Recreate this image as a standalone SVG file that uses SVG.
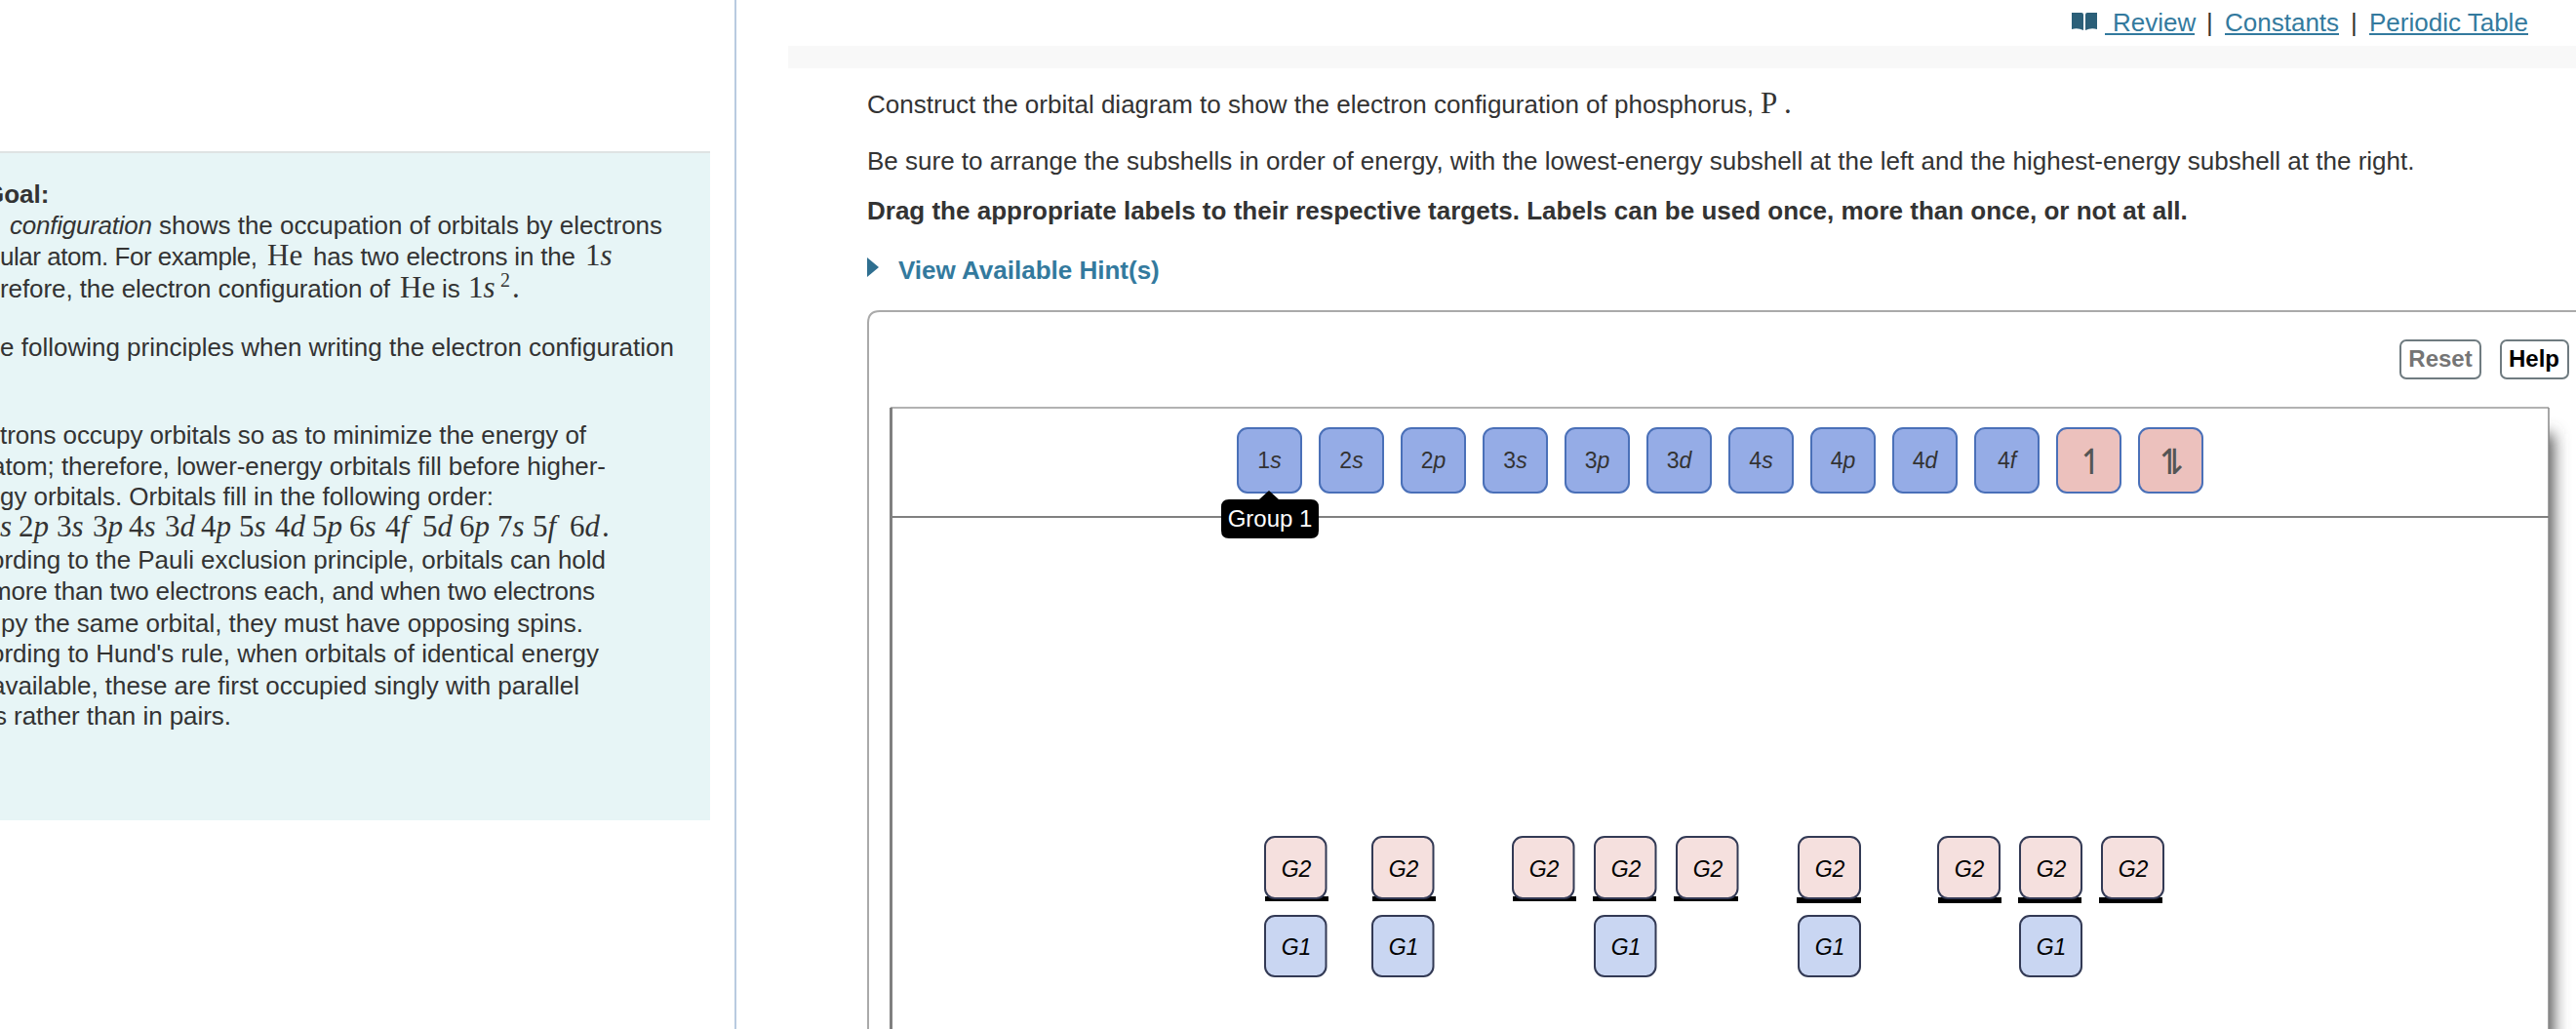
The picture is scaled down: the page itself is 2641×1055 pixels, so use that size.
<svg xmlns="http://www.w3.org/2000/svg" width="2641" height="1055" viewBox="0 0 2641 1055">
<style>
text{font-family:"Liberation Sans",Arial,sans-serif;font-size:26px;fill:#333}
.m{font-family:"Liberation Serif","Times New Roman",serif;font-size:31px}
.i{font-style:italic}
.b{font-weight:bold}
.lnk{fill:#337a9e;font-size:26px}
.ul{stroke:#337a9e;stroke-width:2}
.tok{stroke:#4a70b8;stroke-width:2}
.blue{fill:#95ace6}
.red{fill:#ecc1bd}
.tl{font-size:23px;fill:#333;text-anchor:middle}
.har{font-family:"DejaVu Sans",sans-serif;font-size:36px;fill:#555}
.t{stroke:#333a55;stroke-width:2}
.g2{fill:#f5e0de}
.g1{fill:#c9d6f2}
.nl{font-size:23px;font-style:italic;fill:#000;text-anchor:middle}
.btn{fill:#fff;stroke:#6f7b80;stroke-width:2}
.bt{font-size:24px;font-weight:bold;text-anchor:middle}
.bar{fill:#000}
</style>
<defs>
<filter id="blur" x="-20%" y="-20%" width="140%" height="140%"><feGaussianBlur stdDeviation="8"/></filter>
<filter id="soft" x="-5%" y="-50%" width="110%" height="200%"><feGaussianBlur stdDeviation="0.6"/></filter>
</defs>
<rect width="2641" height="1055" fill="#fff"/>

<g id="intro-panel">
<rect x="0" y="156" width="728" height="685" fill="#e7f5f6"/>
<rect x="0" y="155" width="728" height="2" fill="#dfe3e3"/>
<text class="b" x="-16" y="208">Goal:</text>
<text class="i" x="10" y="240" textLength="146">configuration</text><text x="163" y="240" textLength="516">shows the occupation of orbitals by electrons</text>
<text x="0" y="272" textLength="264">ular atom. For example,</text><text class="m" x="274" y="272">He</text><text x="321" y="272" textLength="269">has two electrons in the</text><text class="m" x="600" y="272">1<tspan class="i">s</tspan></text>
<text x="0" y="305" textLength="400">refore, the electron configuration of</text><text class="m" x="410" y="305">He</text><text x="453" y="305">is</text><text class="m" x="480" y="305">1<tspan class="i">s</tspan></text><text class="m" x="513" y="294" style="font-size:20px">2</text><text class="m" x="525" y="305">.</text>
<text x="0" y="365" textLength="691">e following principles when writing the electron configuration</text>
<text x="0" y="455" textLength="601">trons occupy orbitals so as to minimize the energy of</text>
<text x="-9" y="487" textLength="630">atom; therefore, lower-energy orbitals fill before higher-</text>
<text x="0" y="518" textLength="506">gy orbitals. Orbitals fill in the following order:</text>
<g id="order">
<text class="m i" x="0" y="550">s</text><text class="m" x="19" y="550">2<tspan class="i">p</tspan></text><text class="m" x="58" y="550">3<tspan class="i">s</tspan></text><text class="m" x="95" y="550">3<tspan class="i">p</tspan></text><text class="m" x="132" y="550">4<tspan class="i">s</tspan></text><text class="m" x="169" y="550">3<tspan class="i">d</tspan></text><text class="m" x="206" y="550">4<tspan class="i">p</tspan></text><text class="m" x="245" y="550">5<tspan class="i">s</tspan></text><text class="m" x="282" y="550">4<tspan class="i">d</tspan></text><text class="m" x="320" y="550">5<tspan class="i">p</tspan></text><text class="m" x="358" y="550">6<tspan class="i">s</tspan></text><text class="m" x="395" y="550">4<tspan class="i">f</tspan></text><text class="m" x="433" y="550">5<tspan class="i">d</tspan></text><text class="m" x="471" y="550">6<tspan class="i">p</tspan></text><text class="m" x="510" y="550">7<tspan class="i">s</tspan></text><text class="m" x="546" y="550">5<tspan class="i">f</tspan></text><text class="m" x="584" y="550">6<tspan class="i">d</tspan></text><text class="m" x="617" y="550">.</text>
</g>
<text x="-10" y="583" textLength="631">ording to the Pauli exclusion principle, orbitals can hold</text>
<text x="-10" y="615" textLength="620">more than two electrons each, and when two electrons</text>
<text x="1" y="648" textLength="597">py the same orbital, they must have opposing spins.</text>
<text x="-10" y="679" textLength="624">ording to Hund's rule, when orbitals of identical energy</text>
<text x="-9" y="712" textLength="603">available, these are first occupied singly with parallel</text>
<text x="-6" y="743" textLength="243">s rather than in pairs.</text>
</g>

<rect id="divider" x="753" y="0" width="2" height="1055" fill="#b9cbe0"/>

<g id="links">
<rect x="808" y="47" width="1833" height="23" fill="#f8f8f8"/>
<path d="M2124 13h10q2 0 2 2v16q-6-3-12 -1zM2150 13h-10q-2 0-2 2v16q6-3 12-1z" fill="#2b5f78"/>
<text class="lnk" x="2166" y="32">Review</text><line class="ul" x1="2158" y1="35" x2="2250" y2="35"/>
<text x="2262" y="32">|</text>
<text class="lnk" x="2281" y="32">Constants</text><line class="ul" x1="2281" y1="35" x2="2398" y2="35"/>
<text x="2410" y="32">|</text>
<text class="lnk" x="2429" y="32">Periodic Table</text><line class="ul" x1="2429" y1="35" x2="2592" y2="35"/>
</g>

<g id="instructions">
<text x="889" y="116">Construct the orbital diagram to show the electron configuration of phosphorus,</text><text class="m" x="1805" y="116">P</text><text class="m" x="1829" y="116">.</text>
<text x="889" y="174">Be sure to arrange the subshells in order of energy, with the lowest-energy subshell at the left and the highest-energy subshell at the right.</text>
<text class="b" x="889" y="225">Drag the appropriate labels to their respective targets. Labels can be used once, more than once, or not at all.</text>
<path d="M889 264l12 10-12 10z" fill="#2f6f90"/>
<text class="b" x="921" y="286" style="fill:#337a9e">View Available Hint(s)</text>
</g>

<path id="outer-box" d="M890 1055V331q0-12 12-12H2641" fill="none" stroke="#aaa" stroke-width="2"/>
<g id="reset"><rect class="btn" x="2461" y="349" width="82" height="39" rx="6"/><text class="bt" x="2502" y="376" style="fill:#757575">Reset</text></g>
<g id="help"><rect class="btn" x="2564" y="349" width="69" height="39" rx="6"/><text class="bt" x="2598" y="376" style="fill:#000">Help</text></g>

<g id="canvas">
<rect x="1900" y="445" width="718" height="700" fill="#555" filter="url(#blur)"/>
<rect x="913" y="418" width="1700" height="637" fill="#fff"/>
<path d="M2613 418H913" stroke="#999" stroke-width="1.500" fill="none"/>
<path d="M2613 418V1055" stroke="#888" stroke-width="1.500" fill="none"/>
<path d="M913.5 418V1055" stroke="#808080" stroke-width="3" fill="none"/>
<path d="M913 530H2613" stroke="#808080" stroke-width="2" fill="none"/>
</g>

<g id="token-1s"><rect class="tok blue" x="1269" y="439" width="65" height="66" rx="10"/><text class="tl" x="1301.500" y="480">1<tspan class="i">s</tspan></text></g>
<g id="token-2s"><rect class="tok blue" x="1353" y="439" width="65" height="66" rx="10"/><text class="tl" x="1385.500" y="480">2<tspan class="i">s</tspan></text></g>
<g id="token-2p"><rect class="tok blue" x="1437" y="439" width="65" height="66" rx="10"/><text class="tl" x="1469.500" y="480">2<tspan class="i">p</tspan></text></g>
<g id="token-3s"><rect class="tok blue" x="1521" y="439" width="65" height="66" rx="10"/><text class="tl" x="1553.500" y="480">3<tspan class="i">s</tspan></text></g>
<g id="token-3p"><rect class="tok blue" x="1605" y="439" width="65" height="66" rx="10"/><text class="tl" x="1637.500" y="480">3<tspan class="i">p</tspan></text></g>
<g id="token-3d"><rect class="tok blue" x="1689" y="439" width="65" height="66" rx="10"/><text class="tl" x="1721.500" y="480">3<tspan class="i">d</tspan></text></g>
<g id="token-4s"><rect class="tok blue" x="1773" y="439" width="65" height="66" rx="10"/><text class="tl" x="1805.500" y="480">4<tspan class="i">s</tspan></text></g>
<g id="token-4p"><rect class="tok blue" x="1857" y="439" width="65" height="66" rx="10"/><text class="tl" x="1889.500" y="480">4<tspan class="i">p</tspan></text></g>
<g id="token-4d"><rect class="tok blue" x="1941" y="439" width="65" height="66" rx="10"/><text class="tl" x="1973.500" y="480">4<tspan class="i">d</tspan></text></g>
<g id="token-4f"><rect class="tok blue" x="2025" y="439" width="65" height="66" rx="10"/><text class="tl" x="2057.500" y="480">4<tspan class="i">f</tspan></text></g>
<g id="token-up"><rect class="tok red" x="2109" y="439" width="65" height="66" rx="10"/><text class="har" x="2129" y="486">↿</text></g>
<g id="token-updown"><rect class="tok red" x="2193" y="439" width="65" height="66" rx="10"/><text class="har" x="2209 2214" y="486">↿⇂</text></g>

<g id="tooltip"><path d="M1301 503l10 9h33q8 0 8 8v24q0 8-8 8h-84q-8 0-8-8v-24q0-8 8-8h31z" fill="#000"/><text x="1302" y="540" style="font-size:24px;fill:#fff;text-anchor:middle">Group 1</text></g>

<g id="connectors" filter="url(#soft)">
<rect class="bar" x="1297" y="919" width="65" height="5"/>
<rect class="bar" x="1407" y="919" width="65" height="5"/>
<rect class="bar" x="1551" y="919" width="65" height="5"/>
<rect class="bar" x="1633" y="919" width="65" height="5"/>
<rect class="bar" x="1716" y="919" width="66" height="5"/>
<rect class="bar" x="1842" y="920" width="66" height="6"/>
<rect class="bar" x="1987" y="920" width="65" height="6"/>
<rect class="bar" x="2069" y="920" width="65" height="6"/>
<rect class="bar" x="2152" y="920" width="65" height="6"/>
</g>

<g id="g2-1"><rect class="t g2" x="1297" y="858" width="62.500" height="63" rx="10"/><text class="nl" x="1329" y="899">G2</text></g>
<g id="g2-2"><rect class="t g2" x="1407" y="858" width="62.500" height="63" rx="10"/><text class="nl" x="1439" y="899">G2</text></g>
<g id="g2-3"><rect class="t g2" x="1551" y="858" width="62.500" height="63" rx="10"/><text class="nl" x="1583" y="899">G2</text></g>
<g id="g2-4"><rect class="t g2" x="1635" y="858" width="62.500" height="63" rx="10"/><text class="nl" x="1667" y="899">G2</text></g>
<g id="g2-5"><rect class="t g2" x="1719" y="858" width="62.500" height="63" rx="10"/><text class="nl" x="1751" y="899">G2</text></g>
<g id="g2-6"><rect class="t g2" x="1844" y="858" width="63" height="63" rx="10"/><text class="nl" x="1876" y="899">G2</text></g>
<g id="g2-7"><rect class="t g2" x="1987" y="858" width="63" height="63" rx="10"/><text class="nl" x="2019" y="899">G2</text></g>
<g id="g2-8"><rect class="t g2" x="2071" y="858" width="63" height="63" rx="10"/><text class="nl" x="2103" y="899">G2</text></g>
<g id="g2-9"><rect class="t g2" x="2155" y="858" width="63" height="63" rx="10"/><text class="nl" x="2187" y="899">G2</text></g>
<g id="g1-1"><rect class="t g1" x="1297" y="939" width="62.500" height="62" rx="10"/><text class="nl" x="1329" y="979">G1</text></g>
<g id="g1-2"><rect class="t g1" x="1407" y="939" width="62.500" height="62" rx="10"/><text class="nl" x="1439" y="979">G1</text></g>
<g id="g1-3"><rect class="t g1" x="1635" y="939" width="62.500" height="62" rx="10"/><text class="nl" x="1667" y="979">G1</text></g>
<g id="g1-4"><rect class="t g1" x="1844" y="939" width="63" height="62" rx="10"/><text class="nl" x="1876" y="979">G1</text></g>
<g id="g1-5"><rect class="t g1" x="2071" y="939" width="63" height="62" rx="10"/><text class="nl" x="2103" y="979">G1</text></g>
</svg>
